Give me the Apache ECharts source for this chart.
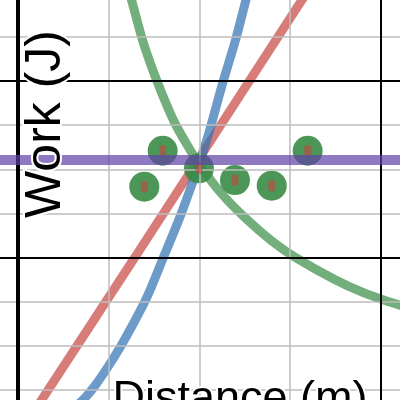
<!DOCTYPE html>
<html>
<head>
<meta charset="utf-8">
<style>html,body{margin:0;padding:0;background:#fff}#c{width:400px;height:400px}</style>
<script src="https://cdn.jsdelivr.net/npm/echarts@6/dist/echarts.min.js"></script>
</head>
<body>
<div id="c"></div>
<script>
// Axis view window (data units)
var xRange = [-0.1983, 4.2094];
var yRange = [0.771, 9.836];

// Grid lines
var xMinorLines = [1, 2, 3];
var xMajorLines = [4];
var xAxisLine = [0];
var yMinorLines = [1, 2, 3, 5, 6, 7, 9];
var yMajorLines = [4, 8];

// Series data
var redLine = [[-0.2, -0.70], [0.26, 0.77], [1.29, 4.01], [3.13, 9.84], [3.3, 10.38]];
var blueCurve = [[0.6, 0.56], [0.738, 0.82], [0.85, 1.1], [1.0, 1.55], [1.124, 1.96], [1.25, 2.42], [1.421, 3.1], [1.598, 3.98], [1.8, 5.0], [2.0, 6.15], [2.1, 6.8], [2.248, 7.9], [2.4, 8.95], [2.501, 9.75], [2.6, 10.5]];
var greenCurve = [[1.2, 10.2], [1.256, 9.8], [1.366, 8.97], [1.45, 8.45], [1.532, 8.0], [1.63, 7.5], [1.73, 7.04], [1.85, 6.6], [2.0, 6.1], [2.25, 5.43], [2.523, 4.86], [2.8, 4.37], [3.074, 3.98], [3.5, 3.49], [3.8, 3.21], [4.099, 2.99], [4.3, 2.86]];
var purpleLevel = 6.21;
var pointsX = [1.594, 1.392, 1.994, 2.391, 2.796, 3.192];
var pointsY = [6.420, 5.605, 6.022, 5.756, 5.627, 6.420];

var xLabel = 'Distance (m)';
var yLabel = 'Work (J)';

var points = pointsX.map(function (x, i) { return [x, pointsY[i]]; });
var purpleLine = [[xRange[0] - 0.2, purpleLevel], [xRange[1] + 0.2, purpleLevel]];

function vLines(vals, color, width) {
  return vals.map(function (v) { return { xAxis: v, lineStyle: { color: color, width: width, type: 'solid' } }; });
}
function hLines(vals, color, width) {
  return vals.map(function (v) { return { yAxis: v, lineStyle: { color: color, width: width, type: 'solid' } }; });
}

var chart = echarts.init(document.getElementById('c'), null, { renderer: 'canvas' });
chart.setOption({
  animation: false,
  backgroundColor: '#ffffff',
  grid: { left: 0, right: 0, top: 0, bottom: 0 },
  xAxis: { type: 'value', min: xRange[0], max: xRange[1], show: false, splitLine: { show: false } },
  yAxis: { type: 'value', min: yRange[0], max: yRange[1], show: false, splitLine: { show: false } },
  series: [
    {
      type: 'line', data: [], silent: true, z: 1,
      markLine: {
        silent: true, symbol: ['none', 'none'], label: { show: false }, animation: false,
        data: [].concat(
          vLines(xMinorLines, '#bdbdbd', 1.5),
          hLines(yMinorLines, '#bdbdbd', 1.5)
        )
      }
    },
    {
      type: 'line', data: [], silent: true, z: 1,
      markLine: {
        silent: true, symbol: ['none', 'none'], label: { show: false }, animation: false,
        data: [].concat(
          vLines(xMajorLines, '#000', 2),
          hLines(yMajorLines, '#000', 2),
          vLines(xAxisLine, '#000', 4)
        )
      }
    },
    { type: 'line', data: redLine, showSymbol: false, symbol: 'none', z: 3,
      lineStyle: { color: '#c74440', width: 9, opacity: 0.7 } },
    { type: 'line', data: blueCurve, showSymbol: false, symbol: 'none', smooth: 0.3, z: 3,
      lineStyle: { color: '#2d70b3', width: 9, opacity: 0.7 } },
    { type: 'line', data: greenCurve, showSymbol: false, symbol: 'none', smooth: 0.3, z: 3,
      lineStyle: { color: '#388c46', width: 9, opacity: 0.7 } },
    { type: 'scatter', data: points, symbol: 'circle', symbolSize: 30, z: 4,
      itemStyle: { color: '#388c46', opacity: 0.9 } },
    { type: 'scatter', data: points, symbol: 'roundRect', symbolSize: [7, 11], z: 5,
      itemStyle: { color: '#c74440', opacity: 0.6 } },
    { type: 'line', data: purpleLine, showSymbol: false, symbol: 'none', z: 6,
      lineStyle: { color: '#6042a6', width: 10, opacity: 0.7 } }
  ],
  graphic: [
    { type: 'text', x: 46, y: 124, rotation: Math.PI / 2, z: 100,
      style: { text: yLabel, font: '50px "Liberation Sans", Arial, sans-serif', fill: '#000',
        stroke: '#fff', lineWidth: 4, textAlign: 'center', textVerticalAlign: 'middle' } },
    { type: 'text', x: 240, y: 377.5, z: 100,
      style: { text: xLabel, font: '45px "Liberation Sans", Arial, sans-serif', fill: '#000',
        stroke: '#fff', lineWidth: 4, textAlign: 'center', textVerticalAlign: 'top' } }
  ]
});
</script>
</body>
</html>
